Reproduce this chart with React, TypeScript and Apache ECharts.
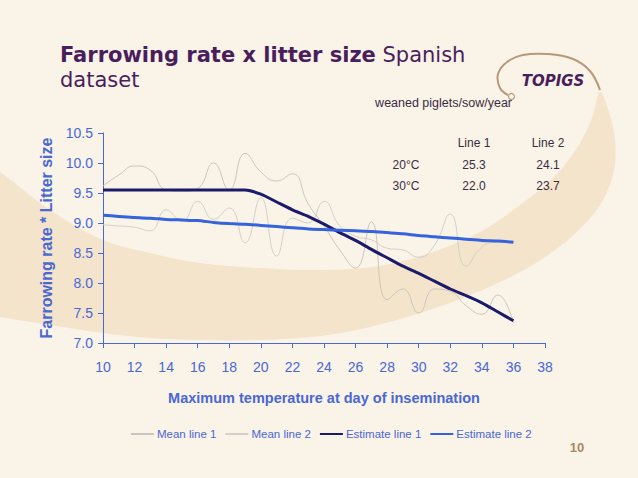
import React, { useEffect, useRef } from "react";
import * as echarts from "echarts";

// Maximum temperature on the day of insemination (°C)
const temps = [10, 11, 12, 13, 14, 15, 16, 17, 18, 19, 20, 21, 22, 23, 24, 25, 26, 27, 28, 29, 30, 31, 32, 33, 34, 35, 36];

// Farrowing rate * litter size
const meanLine1 = [9.62, 9.8, 9.95, 9.88, 9.55, 9.53, 9.58, 10.0, 9.55, 10.16, 9.85, 9.7, 9.82, 9.32, 8.95, 8.55, 8.25, 9.02, 7.72, 7.9, 7.5, 7.9, 7.86, 7.62, 7.48, 7.8, 7.33];
const meanLine2 = [8.97, 8.95, 8.93, 8.87, 9.22, 9.03, 9.36, 9.06, 9.25, 8.67, 9.42, 8.45, 9.08, 9.0, 9.36, 8.95, 8.78, 8.72, 8.58, 8.55, 8.43, 8.63, 9.15, 8.28, 8.6, 8.68, 8.69];
const estimateLine1 = [9.55, 9.55, 9.55, 9.55, 9.55, 9.55, 9.55, 9.55, 9.55, 9.55, 9.48, 9.35, 9.22, 9.11, 8.98, 8.84, 8.71, 8.56, 8.42, 8.28, 8.16, 8.03, 7.9, 7.79, 7.67, 7.52, 7.37];
const estimateLine2 = [9.13, 9.11, 9.09, 9.08, 9.06, 9.05, 9.04, 9.01, 8.99, 8.98, 8.96, 8.94, 8.92, 8.9, 8.89, 8.88, 8.87, 8.86, 8.84, 8.82, 8.79, 8.77, 8.75, 8.73, 8.71, 8.7, 8.68];

const seriesNames = ["Mean line 1", "Mean line 2", "Estimate line 1", "Estimate line 2"];

// Weaned piglets/sow/year summary
const tableHeader = ["Line 1", "Line 2"];
const tableRows = ["20°C", "30°C"];
const tableLine1 = ["25.3", "22.0"];
const tableLine2 = ["24.1", "23.7"];

const BG = "#f9f3e8";
const BAND = "#f4e4cb";
const AXIS_BLUE = "#4a68d4";
const PURPLE = "#4a1e5b";
const TEXT_DARK = "#3b2c42";
const SANS = "'Liberation Sans', Arial, sans-serif";
const TITLE_FONT = "'DejaVu Sans', Verdana, sans-serif";

const bandPoints = [
  [-20, 160], [0, 172], [50, 210], [103, 240], [150, 253], [200, 263], [260, 268], [320, 270],
  [380, 266], [430, 253], [480, 232], [520, 205], [553, 178], [577, 148], [592, 118], [600, 92],
  [609, 112], [615, 140], [614, 170], [603, 200], [584, 225], [555, 250], [520, 272], [470, 295],
  [420, 313], [370, 327], [320, 336], [260, 340], [200, 340], [150, 338], [103, 333], [50, 325],
  [0, 317], [-20, 313],
];

const swooshPoints = [
  [508, 95], [500, 88], [498, 74], [507, 62], [523, 55], [547, 54], [573, 59], [590, 71], [600, 90],
];

export default function App() {
  const ref = useRef<HTMLDivElement>(null);

  useEffect(() => {
    if (!ref.current) return;
    const chart = echarts.init(ref.current, undefined, { renderer: "svg" });

    const pair = (ys: number[]) => temps.map((t, i) => [t, ys[i]]);

    const tableTexts: any[] = [];
    const colX = [406, 474, 548];
    tableHeader.forEach((h, i) => {
      tableTexts.push({
        type: "text", x: colX[i + 1], y: 143, z: 10,
        style: { text: h, fill: TEXT_DARK, font: `12px ${SANS}`, textAlign: "center", textVerticalAlign: "middle" },
      });
    });
    tableRows.forEach((r, j) => {
      const y = 165 + j * 21;
      [r, tableLine1[j], tableLine2[j]].forEach((txt, i) => {
        tableTexts.push({
          type: "text", x: colX[i], y, z: 10,
          style: { text: txt, fill: TEXT_DARK, font: `12px ${SANS}`, textAlign: "center", textVerticalAlign: "middle" },
        });
      });
    });

    chart.setOption({
      animation: false,
      backgroundColor: BG,
      graphic: [
        {
          type: "polygon", z: -10, silent: true,
          shape: { points: bandPoints, smooth: 0.35 },
          style: { fill: BAND },
        },
        {
          type: "polyline", z: -9, silent: true,
          shape: { points: swooshPoints, smooth: 0.4 },
          style: { stroke: "#b8987a", lineWidth: 2, fill: null },
        },
        {
          type: "circle", z: -9, silent: true,
          shape: { cx: 511.5, cy: 96.5, r: 3 },
          style: { stroke: "#b8987a", lineWidth: 1.2, fill: "none" },
        },
        {
          type: "text", x: 553, y: 81, z: 10,
          style: {
            text: "TOPIGS", fill: PURPLE, font: `italic bold 15px ${TITLE_FONT}`,
            textAlign: "center", textVerticalAlign: "middle",
          },
        },
        {
          type: "text", x: 60, y: 55, z: 10,
          style: {
            text: "{b|Farrowing rate x litter size}{n| Spanish}",
            textVerticalAlign: "middle",
            rich: {
              b: { fill: PURPLE, font: `bold 21px ${TITLE_FONT}` },
              n: { fill: PURPLE, font: `21px ${TITLE_FONT}` },
            },
          },
        },
        {
          type: "text", x: 60, y: 80, z: 10,
          style: { text: "dataset", fill: PURPLE, font: `21px ${TITLE_FONT}`, textVerticalAlign: "middle" },
        },
        {
          type: "text", x: 512, y: 103, z: 10,
          style: {
            text: "weaned piglets/sow/year", fill: TEXT_DARK, font: `12.5px ${SANS}`,
            textAlign: "right", textVerticalAlign: "middle",
          },
        },
        ...tableTexts,
        {
          type: "text", x: 577, y: 447, z: 10,
          style: { text: "10", fill: "#a88a5e", font: `bold 13px ${SANS}`, textAlign: "center", textVerticalAlign: "middle" },
        },
      ],
      grid: { left: 103, right: 93, top: 133, bottom: 135, containLabel: false },
      legend: {
        data: seriesNames,
        left: 125,
        top: 423,
        itemWidth: 23,
        itemHeight: 12,
        itemGap: 8,
        itemStyle: { opacity: 0, borderWidth: 0, color: "rgba(0,0,0,0)" },
        textStyle: { color: AXIS_BLUE, fontSize: 11.5, fontFamily: SANS, padding: [0, 0, 0, -2] },
      },
      xAxis: {
        type: "value",
        min: 10,
        max: 38,
        interval: 2,
        name: "Maximum temperature at day of insemination",
        nameLocation: "middle",
        nameGap: 47,
        nameTextStyle: { color: AXIS_BLUE, fontSize: 14.5, fontWeight: "bold", fontFamily: SANS },
        axisLine: { lineStyle: { color: AXIS_BLUE, width: 1 } },
        axisTick: { length: 5, lineStyle: { color: AXIS_BLUE } },
        axisLabel: { color: AXIS_BLUE, fontSize: 14, fontFamily: SANS, margin: 17 },
        splitLine: { show: false },
      },
      yAxis: {
        type: "value",
        min: 7,
        max: 10.5,
        interval: 0.5,
        name: "Farrowing rate * Litter size",
        nameLocation: "middle",
        nameGap: 48,
        nameRotate: 90,
        nameTextStyle: { color: AXIS_BLUE, fontSize: 16, fontWeight: "bold", fontFamily: SANS },
        axisLine: { show: true, lineStyle: { color: AXIS_BLUE, width: 1 } },
        axisTick: { show: true, length: 5, lineStyle: { color: AXIS_BLUE } },
        axisLabel: {
          color: AXIS_BLUE, fontSize: 14, fontFamily: SANS, margin: 10,
          formatter: (v: number) => v.toFixed(1),
        },
        splitLine: { show: false },
      },
      series: [
        {
          name: seriesNames[0], type: "line", data: pair(meanLine1), smooth: 0.5,
          symbol: "none", lineStyle: { color: "#cbc5bf", width: 1 }, itemStyle: { color: "#cbc5bf" }, z: 2,
        },
        {
          name: seriesNames[1], type: "line", data: pair(meanLine2), smooth: 0.5,
          symbol: "none", lineStyle: { color: "#d3cfca", width: 1 }, itemStyle: { color: "#d3cfca" }, z: 2,
        },
        {
          name: seriesNames[2], type: "line", data: pair(estimateLine1), smooth: 0.2,
          symbol: "none", lineStyle: { color: "#1b1a6b", width: 3 }, itemStyle: { color: "#1b1a6b" }, z: 3,
        },
        {
          name: seriesNames[3], type: "line", data: pair(estimateLine2), smooth: 0.2,
          symbol: "none", lineStyle: { color: "#3563dc", width: 3 }, itemStyle: { color: "#3563dc" }, z: 3,
        },
      ],
    });

    return () => chart.dispose();
  }, []);

  return (
    <div
      ref={ref}
      style={{ position: "fixed", left: 0, top: 0, width: 638, height: 478 }}
    />
  );
}
